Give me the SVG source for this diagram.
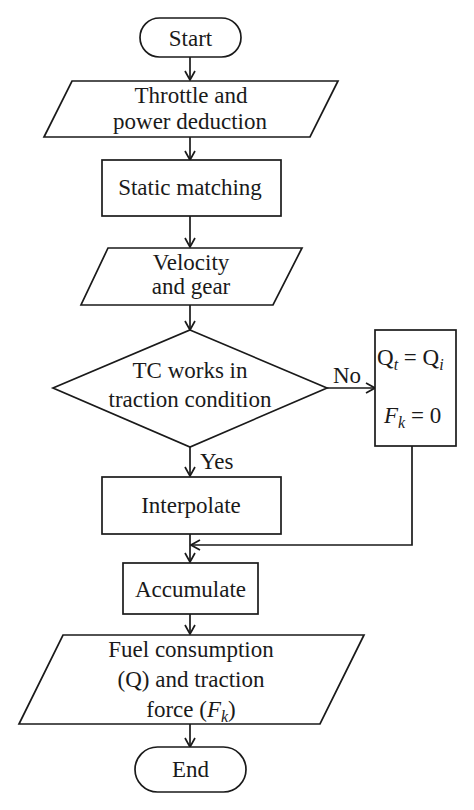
<svg xmlns="http://www.w3.org/2000/svg" width="474" height="810" viewBox="0 0 474 810">
<style>
.s{fill:#fff;stroke:#1a1a1a;stroke-width:1.7}
.c{fill:none;stroke:#1a1a1a;stroke-width:1.7}
text{font-family:"Liberation Serif","Times New Roman",serif;font-size:23px;fill:#1a1a1a}
.m{text-anchor:middle}
.i{font-style:italic}
.sub{font-size:16px;font-style:italic}
</style>
<defs>
<marker id="a" viewBox="0 0 12 12" refX="11" refY="6" markerWidth="12" markerHeight="12" markerUnits="userSpaceOnUse" orient="auto">
<path d="M2,1 L11,6 L2,11" fill="none" stroke="#1a1a1a" stroke-width="1.7"/>
</marker>
</defs>
<rect width="474" height="810" fill="#fff"/>
<g id="connectors">
<line class="c" x1="190" y1="57" x2="190" y2="80" marker-end="url(#a)"/>
<line class="c" x1="190" y1="137" x2="190" y2="160" marker-end="url(#a)"/>
<line class="c" x1="190" y1="216" x2="190" y2="247" marker-end="url(#a)"/>
<line class="c" x1="190" y1="305" x2="190" y2="330" marker-end="url(#a)"/>
<line class="c" x1="327" y1="388" x2="375" y2="388" marker-end="url(#a)"/>
<line class="c" x1="190" y1="447" x2="190" y2="476" marker-end="url(#a)"/>
<polyline class="c" points="412,446 412,545 191,545" marker-end="url(#a)"/>
<line class="c" x1="190" y1="534" x2="190" y2="562" marker-end="url(#a)"/>
<line class="c" x1="190" y1="614" x2="190" y2="634" marker-end="url(#a)"/>
<line class="c" x1="190" y1="724" x2="190" y2="747" marker-end="url(#a)"/>
<text x="333" y="383">No</text>
<text x="200" y="469">Yes</text>
</g>
<g id="start">
<rect class="s" x="140" y="18" width="101" height="39" rx="19.5"/>
<text class="m" x="190.5" y="46">Start</text>
</g>
<g id="throttle">
<polygon class="s" points="72,81 338,81 310,137 44,137"/>
<text class="m" x="191" y="103">Throttle and</text>
<text class="m" x="190" y="129">power deduction</text>
</g>
<g id="static">
<rect class="s" x="102" y="160" width="179" height="56"/>
<text class="m" x="190" y="195">Static matching</text>
</g>
<g id="velocity">
<polygon class="s" points="108,248 302,248 273,305 81,305"/>
<text class="m" x="191" y="270">Velocity</text>
<text class="m" x="191" y="294">and gear</text>
</g>
<g id="decision">
<polygon class="s" points="190,330 327,388 190,447 53,388"/>
<text class="m" x="190" y="378">TC works in</text>
<text class="m" x="190" y="407">traction condition</text>
</g>
<g id="qbox">
<rect class="s" x="375" y="330" width="81" height="116"/>
<text x="377" y="365">Q<tspan class="sub" dy="5">t</tspan><tspan dy="-5"> = Q</tspan><tspan class="sub" dy="5">i</tspan></text>
<text x="384" y="423"><tspan class="i">F</tspan><tspan class="sub" dy="5">k</tspan><tspan dy="-5"> = 0</tspan></text>
</g>
<g id="interpolate">
<rect class="s" x="102" y="477" width="179" height="57"/>
<text class="m" x="191" y="513">Interpolate</text>
</g>
<g id="accumulate">
<rect class="s" x="123" y="563" width="135" height="51"/>
<text class="m" x="190.5" y="597">Accumulate</text>
</g>
<g id="fuel">
<polygon class="s" points="63,635 364,635 320,724 19,724"/>
<text class="m" x="191" y="657">Fuel consumption</text>
<text class="m" x="191" y="687">(Q) and traction</text>
<text class="m" x="191" y="717">force (<tspan class="i">F</tspan><tspan class="sub" dy="5">k</tspan><tspan dy="-5">)</tspan></text>
</g>
<g id="end">
<rect class="s" x="135" y="747" width="111" height="45" rx="22.5"/>
<text class="m" x="190.5" y="777">End</text>
</g>
</svg>
